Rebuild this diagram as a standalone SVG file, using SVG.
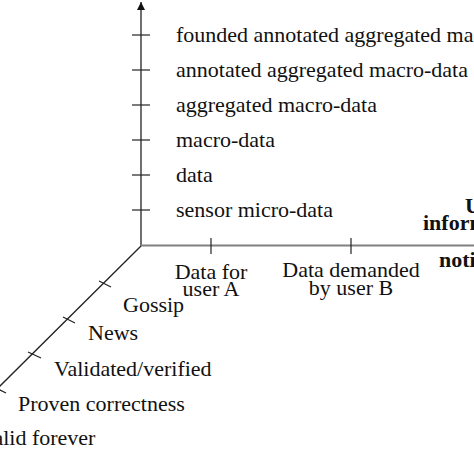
<svg xmlns="http://www.w3.org/2000/svg" width="474" height="474" viewBox="0 0 474 474">
<style>
text{font-family:"Liberation Serif","Times New Roman",serif;font-size:22px;fill:#111}
.b{font-weight:bold}
.m{text-anchor:middle}
.ax{stroke:#222;stroke-width:1.3;fill:none}
.hx{stroke:#808080;stroke-width:2;fill:none}
.tk{stroke:#222;stroke-width:1.2;fill:none}
</style>
<defs>
<marker id="arr" viewBox="0 0 10 10" refX="10" refY="5" markerWidth="8" markerHeight="8" markerUnits="userSpaceOnUse" orient="auto">
<path d="M0,0 L10,5 L0,10 z" fill="#111"/>
</marker>
</defs>
<g id="connectors">
<line class="ax" x1="141" y1="246" x2="141" y2="2" marker-end="url(#arr)"/>
<line class="hx" x1="140" y1="245.5" x2="474" y2="245.5"/>
<line class="ax" x1="141" y1="246" x2="-2" y2="388"/>
<g class="tk">
<line x1="132" y1="35" x2="150" y2="35"/>
<line x1="132" y1="70" x2="150" y2="70"/>
<line x1="132" y1="105" x2="150" y2="105"/>
<line x1="132" y1="140" x2="150" y2="140"/>
<line x1="132" y1="175" x2="150" y2="175"/>
<line x1="132" y1="210" x2="150" y2="210"/>
<line x1="211" y1="238" x2="211" y2="254"/>
<line x1="351" y1="238" x2="351" y2="254"/>
<line x1="99" y1="281" x2="111" y2="287"/>
<line x1="63" y1="317" x2="75" y2="323"/>
<line x1="28" y1="352" x2="41" y2="358"/>
<line x1="-6" y1="387" x2="6" y2="393"/>
</g>
</g>
<g id="y-labels">
<g id="n-founded"><text x="176" y="42">founded annotated aggregated macro-data</text></g>
<g id="n-annotated"><text x="176" y="77">annotated aggregated macro-data</text></g>
<g id="n-aggregated"><text x="176" y="112">aggregated macro-data</text></g>
<g id="n-macro"><text x="176" y="147">macro-data</text></g>
<g id="n-data"><text x="176" y="182">data</text></g>
<g id="n-sensor"><text x="176" y="217">sensor micro-data</text></g>
</g>
<g id="x-labels">
<g id="n-userA"><text class="m" x="211" y="279">Data for</text><text class="m" x="211" y="296">user A</text></g>
<g id="n-userB"><text class="m" x="351" y="277">Data demanded</text><text class="m" x="351" y="295">by user B</text></g>
<g id="n-axis-x"><text class="b" x="465" y="213">User</text><text class="b" x="423" y="230">information</text><text class="b" x="439" y="267">notion</text></g>
</g>
<g id="z-labels">
<g id="n-gossip"><text x="123" y="312">Gossip</text></g>
<g id="n-news"><text x="88" y="340">News</text></g>
<g id="n-validated"><text x="54" y="376">Validated/verified</text></g>
<g id="n-proven"><text x="18" y="411">Proven correctness</text></g>
<g id="n-valid"><text x="-20" y="445">Valid forever</text></g>
</g>
</svg>
